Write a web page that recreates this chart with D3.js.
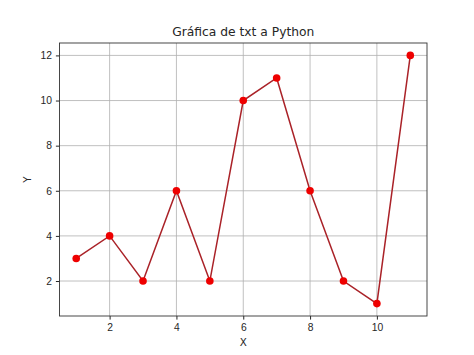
<!DOCTYPE html>
<html>
<head>
<meta charset="utf-8">
<script src="https://cdn.jsdelivr.net/npm/d3@7"></script>
<style>
  body { margin: 0; background: #fff; }
  svg { display: block; font-family: "DejaVu Sans", sans-serif; }
  .tick text { fill: #262626; font-size: 10.3px; }
  .tick line { stroke: #262626; }
</style>
</head>
<body>
<svg id="chart" width="474" height="355"></svg>
<script>
// data
const xs = [1, 2, 3, 4, 5, 6, 7, 8, 9, 10, 11];
const ys = [3, 4, 2, 6, 2, 10, 11, 6, 2, 1, 12];
const xTicks = [2, 4, 6, 8, 10];
const yTicks = [2, 4, 6, 8, 10, 12];

const points = xs.map((x, i) => ({ x, y: ys[i] }));

const margin = { top: 43, right: 47, bottom: 39, left: 59.5 };
const width = 474 - margin.left - margin.right;
const height = 355 - margin.top - margin.bottom;

const svg = d3.select("#chart");
const g = svg.append("g").attr("transform", `translate(${margin.left},${margin.top})`);

const x = d3.scaleLinear().domain([0.5, 11.5]).range([0, width]);
const y = d3.scaleLinear().domain([0.45, 12.55]).range([height, 0]);

/**
 * GRID
 */
g.append("g")
  .selectAll("line")
  .data(xTicks)
  .join("line")
  .attr("x1", d => x(d)).attr("x2", d => x(d))
  .attr("y1", 0).attr("y2", height)
  .attr("stroke", "#b0b0b0").attr("stroke-width", 0.8);

g.append("g")
  .selectAll("line")
  .data(yTicks)
  .join("line")
  .attr("y1", d => y(d)).attr("y2", d => y(d))
  .attr("x1", 0).attr("x2", width)
  .attr("stroke", "#b0b0b0").attr("stroke-width", 0.8);

/**
 * AXES
 */
const xAxis = g.append("g")
  .attr("transform", `translate(0,${height})`)
  .call(d3.axisBottom(x).tickValues(xTicks).tickSize(3.6).tickPadding(4));
const yAxis = g.append("g")
  .call(d3.axisLeft(y).tickValues(yTicks).tickSize(3.6).tickPadding(4));
xAxis.select(".domain").remove();
yAxis.select(".domain").remove();

g.append("rect")
  .attr("width", width).attr("height", height)
  .attr("fill", "none").attr("stroke", "#333").attr("stroke-width", 0.9);

/**
 * LINE + MARKERS
 */
const line = d3.line().x(d => x(d.x)).y(d => y(d.y));

g.append("path")
  .datum(points)
  .attr("d", line)
  .attr("fill", "none")
  .attr("stroke", "#aa2228")
  .attr("stroke-width", 1.5);

g.append("g")
  .selectAll("circle")
  .data(points)
  .join("circle")
  .attr("cx", d => x(d.x))
  .attr("cy", d => y(d.y))
  .attr("r", 3.8)
  .attr("fill", "#ee0000");

/**
 * TEXTS
 */
svg.append("text")
  .attr("x", margin.left + width / 2).attr("y", 36)
  .attr("text-anchor", "middle")
  .attr("font-size", "12.3px").attr("fill", "#262626")
  .text("Gráfica de txt a Python");

svg.append("text")
  .attr("x", margin.left + width / 2).attr("y", 346)
  .attr("text-anchor", "middle")
  .attr("font-size", "10.3px").attr("fill", "#262626")
  .text("X");

svg.append("text")
  .attr("transform", `translate(31,${margin.top + height / 2}) rotate(-90)`)
  .attr("text-anchor", "middle")
  .attr("font-size", "10.3px").attr("fill", "#262626")
  .text("Y");
</script>
</body>
</html>
